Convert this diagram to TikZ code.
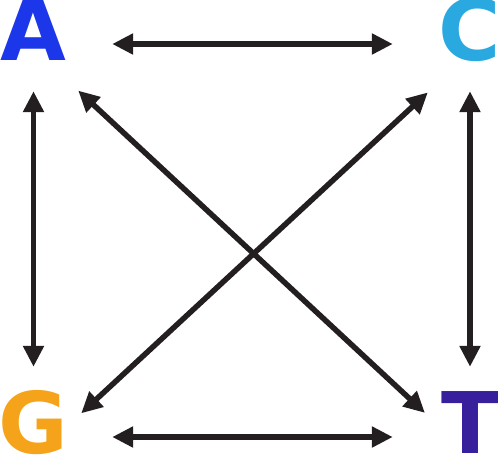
\documentclass[tikz,border=0pt]{standalone}
\usepackage{fontspec}
\setmainfont{DejaVu Sans}
\usetikzlibrary{arrows.meta}

\definecolor{adenine}{HTML}{1C36EA}
\definecolor{cytosine}{HTML}{29A9E0}
\definecolor{guanine}{HTML}{F5A31A}
\definecolor{thymine}{HTML}{38209C}
\definecolor{linkgray}{HTML}{231F20}

\begin{document}
\begin{tikzpicture}
    [%%%%%%%%%%%%%%%%%%%%%%%%%%%%%%
        x=1pt, y=-1pt,
        letter/.style={font=\bfseries\fontsize{85}{85}\selectfont, inner sep=0pt,
            minimum width=70pt, text height=62pt, text depth=29pt},
        link/.style={draw=linkgray, line width=5.5pt, >={Triangle[length=21pt,width=20pt]}, <->},
    ]%%%%%%%%%%%%%%%%%%%%%%%%%%%%%%

\useasboundingbox (0,0) rectangle (498,456);

\node[letter,text=adenine ] (A) at (33.5,44) {A};
\node[letter,text=cytosine] (C) at (470,44) {C};
\node[letter,text=guanine ] (G) at (33.5,437) {G};
\node[letter,text=thymine ] (T) at (470,437) {T};

\draw[link,shorten <=43.5pt,shorten >=42pt] (A) -- (C);
\draw[link,shorten <=43.5pt,shorten >=42pt] (G) -- (T);
\draw[link,shorten <=1.5pt,shorten >=24.5pt] (A) -- (G);
\draw[link,shorten <=1.5pt,shorten >=24.5pt] (C) -- (T);

\draw[link,shorten <=13pt,shorten >=13.5pt] (A.-47.5) -- (T.157.2);
\draw[link,shorten <=9.5pt,shorten >=17pt] (C.-130.8) -- (G.19.5);
\end{tikzpicture}
\end{document}
